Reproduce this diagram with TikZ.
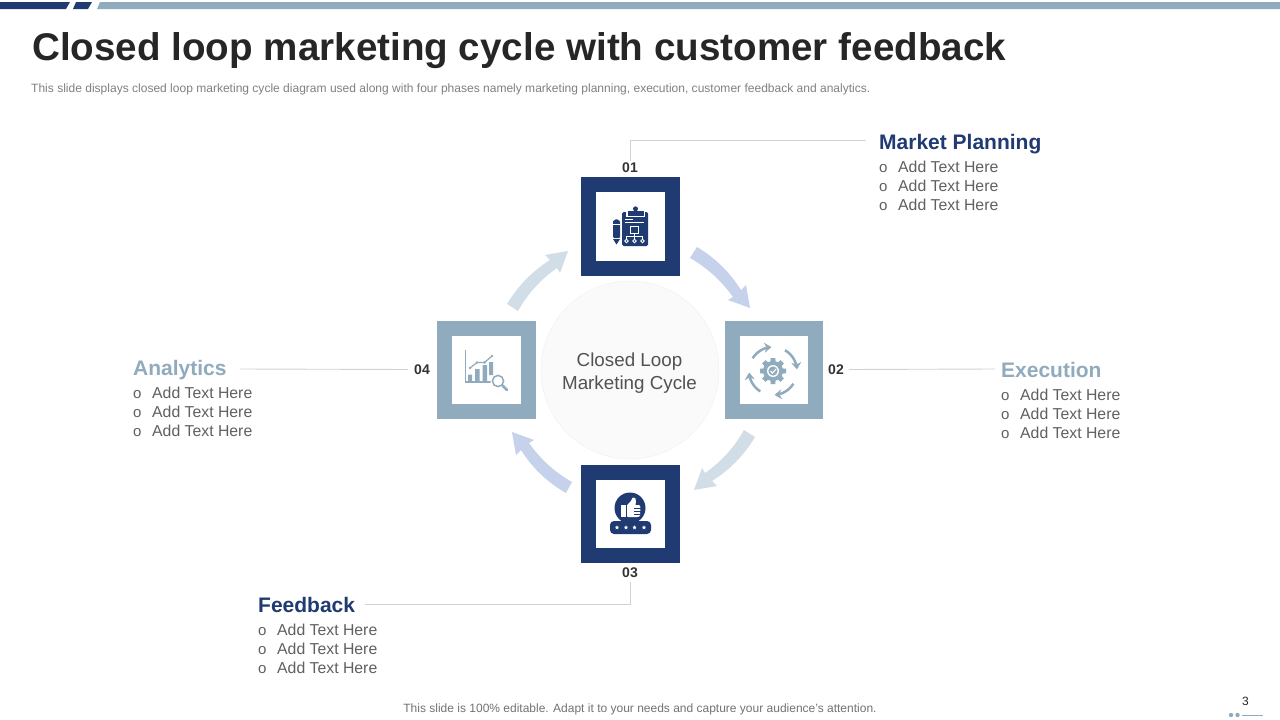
\documentclass[tikz,border=0pt]{standalone}
\usepackage{fontspec}
\setmainfont{Liberation Sans}
\usetikzlibrary{arrows.meta,shapes.geometric}
\definecolor{navy}{HTML}{203A72}
\definecolor{steel}{HTML}{90ABBD}
\definecolor{peri}{HTML}{C6D2EB}
\definecolor{pale}{HTML}{D1DEE7}
\definecolor{leadc}{HTML}{D2D2D2}
\definecolor{bodyc}{HTML}{606060}
\newcommand{\fs}[1]{\fontsize{#1}{#1}\selectfont}
\newcommand{\itm}{\makebox[19pt][l]{\fontsize{15}{19}\selectfont o}Add Text Here}
\newcommand{\threeitems}{\itm\\\itm\\\itm}
\tikzset{
  x=1pt,y=-1pt,
  leader/.style={draw=leadc,line width=0.9pt},
  numlab/.style={font=\bfseries\fs{14},text=black!80,inner sep=0pt},
  headnavy/.style={font=\bfseries\fs{21},text=navy,anchor=base west,inner sep=0pt},
  headsteel/.style={font=\bfseries\fs{21},text=steel,anchor=base west,inner sep=0pt},
  listbox/.style={font=\fontsize{15.8}{19}\selectfont,text=bodyc,anchor=north west,inner sep=0pt,align=left},
  framed/.style={line width=15pt,draw=#1,fill=white,minimum size=83.5pt,inner sep=0pt,shape=rectangle,outer sep=0pt},
  flow/.style={fill=#1,draw=none},
}
\begin{document}
\begin{tikzpicture}
\useasboundingbox (0,0) rectangle (1280,720);
\fill[white] (0,0) rectangle (1280,720);
% top bars
\fill[navy] (0,2) -- (70,2) -- (66,9) -- (0,9) -- cycle;
\fill[navy] (76,2) -- (92,2) -- (88,9) -- (73,9) -- cycle;
\fill[steel] (100,2) -- (1280,2) -- (1280,9) -- (97,9) -- cycle;
% title
\node[font=\bfseries\fs{38.6},text=black!85,anchor=base west,inner sep=0pt] (title) at (32,60.5) {Closed loop marketing cycle with customer feedback};
\node[font=\fs{12.03},text=black!50,anchor=base west,inner sep=0pt] (sub) at (31,92.5) {This slide displays closed loop marketing cycle diagram used along with four phases namely marketing planning, execution, customer feedback and analytics.};
% centre
\node[circle,draw=black!6,fill=black!2,minimum size=178pt,inner sep=0pt] (hub) at (630,370) {};
\node[align=center,font=\fs{18.8},text=black!68,inner sep=0pt] (hubtext) at (629.5,373.5) {Closed Loop\\[4pt]Marketing Cycle};
% frames
\node[framed=navy] (s1) at (630.5,226.5) {};
\node[framed=steel] (s2) at (774,370) {};
\node[framed=navy] (s3) at (630.5,514) {};
\node[framed=steel] (s4) at (486.7,370) {};
% flow arrows
\path[flow=peri] (690,258) .. controls (707.3,267.7) and (721.7,281.3) .. (733,297) -- (728,300) -- (750,308) -- (746,285) -- (741,290) .. controls (729.7,272) and (715,257.7) .. (697,247) -- cycle;
\path[flow=pale] (744,430) .. controls (734.3,447.3) and (721.3,461.7) .. (705,473) -- (702,468) -- (694,490) -- (717,486) -- (712,481) .. controls (730,469.7) and (744.3,455) .. (755,437) -- cycle;
\path[flow=peri] (572,482) .. controls (554.7,472.3) and (540.3,459) .. (529,443) -- (534,440) -- (512,432) -- (516,455) -- (521,450) .. controls (532.3,468) and (547.3,482.3) .. (566,493) -- cycle;
\path[flow=pale] (518,311) .. controls (527.7,293.7) and (540.7,279.3) .. (557,268) -- (560,273) -- (568,251) -- (545,255) -- (550,260) .. controls (532,271.3) and (517.7,286.3) .. (507,304) -- cycle;
% numbers
\node[numlab] (n1) at (630,167.5) {01};
\node[numlab] (n2) at (836,369.5) {02};
\node[numlab] (n3) at (630,572.5) {03};
\node[numlab] (n4) at (422,369.5) {04};
% headings
\node[headnavy] (h1) at (879,149) {Market Planning};
\node[headsteel] (h2) at (1001,377) {Execution};
\node[headnavy] (h3) at (258,612) {Feedback};
\node[headsteel] (h4) at (133,375) {Analytics};
% lists
\node[listbox] (l1) at (879,161) {\threeitems};
\node[listbox] (l2) at (1001,389) {\threeitems};
\node[listbox] (l3) at (258,624) {\threeitems};
\node[listbox] (l4) at (133,387) {\threeitems};
% leaders
\coordinate (e1) at (866,140);
\coordinate (e2) at (995,369);
\coordinate (e3) at (365,604);
\coordinate (e4) at (240,369);
\draw[leader] (n1.north) ++(0,-1) |- (e1);
\draw[leader] (n2.east) ++(5,0) -- (e2);
\draw[leader] (n3.south) ++(0,4) |- (e3);
\draw[leader] (n4.west) ++(-6,0) -- (e4);
% icon 1: clipboard
\fill[navy,rounded corners=1.5pt] (622,212) rectangle (648,246);
\fill[white] (626,211) rectangle (645,216.5);
\fill[navy] (627.5,210.5) rectangle (643.5,215.5);
\fill[navy] (635.5,208.8) circle (2.5);
\draw[white,line width=0.8pt] (625,219.5) -- (633,219.5) (625,222.5) -- (644,222.5);
\draw[white,line width=0.9pt] (630,226) rectangle (638.5,233);
\draw[white,line width=0.8pt] (634.5,233) -- (634.5,236.5) (626.5,239) -- (626.5,236.5) -- (642.5,236.5) -- (642.5,239) (634.5,236.5) -- (634.5,239);
\draw[white,line width=0.8pt] (626.5,241) circle (1.8) (634.5,241) circle (1.8) (642.5,241) circle (1.8);
\fill[navy,rounded corners=1pt] (613,222) -- (613,221) -- (616.5,219) -- (620,221) -- (620,238) -- (613,238) -- cycle;
\fill[navy] (613,239) -- (620,239) -- (616.5,244.5) -- cycle;
\draw[white,line width=0.5pt] (613,224) -- (620,224);
% icon 2: gear with ring of arrows
\foreach \a in {0,45,...,315}{
  \fill[steel] ({773+8*cos(\a)-2.6*sin(\a)},{371-8*sin(\a)-2.6*cos(\a)}) -- ({773+13*cos(\a)-2.4*sin(\a)},{371-13*sin(\a)-2.4*cos(\a)}) -- ({773+13*cos(\a)+2.4*sin(\a)},{371-13*sin(\a)+2.4*cos(\a)}) -- ({773+8*cos(\a)+2.6*sin(\a)},{371-8*sin(\a)+2.6*cos(\a)}) -- cycle;
}
\fill[steel] (773,371) circle (10);
\fill[white] (773,371) circle (6);
\fill[steel] (773,371) circle (4.6);
\draw[white,line width=1.1pt] (770.5,371) -- (772.5,373) -- (776,369);
\draw[steel,line width=2.5pt,-{Stealth[length=7pt,width=10pt]}] plot[smooth,domain=148:94,samples=12] ({773+24*cos(\x)},{371-24*sin(\x)});
\draw[steel,line width=2.5pt,-{Stealth[length=7pt,width=10pt]}] plot[smooth,domain=60:4,samples=12] ({773+24*cos(\x)},{371-24*sin(\x)});
\draw[steel,line width=2.5pt,-{Stealth[length=7pt,width=10pt]}] plot[smooth,domain=-32:-86,samples=12] ({773+24*cos(\x)},{371-24*sin(\x)});
\draw[steel,line width=2.5pt,-{Stealth[length=7pt,width=10pt]}] plot[smooth,domain=-122:-176,samples=12] ({773+24*cos(\x)},{371-24*sin(\x)});
% icon 3: thumb and rating
\fill[navy] (630,508) circle (15.5);
\fill[navy,rounded corners=4pt] (610,521) rectangle (651,534);
\fill[white] (621,505) rectangle (625.5,517);
\fill[white,rounded corners=0.8pt] (627,505) -- (631,501) -- (632.5,497.5) -- (635.5,498) -- (636,503) -- (635,505) -- (639.5,505) -- (640.5,507) -- (640,516) -- (638,517) -- (627,517) -- cycle;
\draw[navy,line width=0.6pt] (634,508) -- (641,508) (634,511) -- (641,511) (634,514) -- (640,514);
\foreach \q in {617,626,634.5,644}{
  \node[star,star points=5,star point ratio=2.2,fill=white,draw=none,inner sep=0pt,minimum size=4.5pt] at (\q,527.5) {};
}
% icon 4: chart and magnifier
\draw[steel,line width=1.3pt] (465.5,350) -- (465.5,382) -- (494,382);
\fill[steel] (468,374.5) rectangle (472,381) (475,369) rectangle (479.5,381) (482.5,365) rectangle (487,381) (489,362) rectangle (493,375);
\draw[steel,line width=1.2pt] (470,368) -- (477,362.5) -- (484.5,362.5) -- (492,356);
\fill[steel] (470,368) circle (1.4) (477,362.5) circle (1.4) (484.5,362.5) circle (1.4) (492,356) circle (1.4);
\draw[white,line width=1pt,fill=white] (498,381) circle (7);
\draw[steel,line width=1.5pt] (498,381) circle (5.6);
\draw[steel,line width=2.6pt,line cap=round] (502.5,385.5) -- (507,390);
% footer
\node[font=\fs{12},text=black!55,inner sep=0pt] (foot) at (640,709) {This slide is 100\% editable. Adapt it to your needs and capture your audience's attention.};
\node[font=\fs{12},text=black!85,inner sep=0pt] (page) at (1245.5,701) {3};
\fill[steel] (1231,715) circle (2.2) (1237.5,715) circle (2.2);
\draw[steel,line width=0.7pt] (1242,715.5) -- (1263,715.5);
\end{tikzpicture}
\end{document}
